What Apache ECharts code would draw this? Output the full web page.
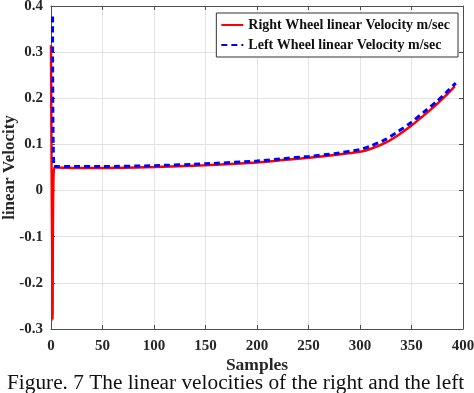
<!DOCTYPE html>
<html><head><meta charset="utf-8">
<script src="https://cdn.jsdelivr.net/npm/echarts@6/dist/echarts.min.js"></script>
<style>html,body{margin:0;padding:0;background:#fff}#c{width:474px;height:393px}</style>
</head><body><div id="c"></div>
<script>
const rightSamples = [0, 1.5, 3, 25, 50, 100, 150, 200, 225, 250, 275, 300, 310, 325, 337, 350, 362, 375, 383, 392];
const rightValues  = [0.315, -0.28, 0.050, 0.049, 0.049, 0.051, 0.055, 0.061, 0.066, 0.071, 0.077, 0.084, 0.090, 0.104, 0.120, 0.141, 0.163, 0.188, 0.205, 0.226];
const leftSamples  = [1.5, 3, 25, 50, 100, 150, 200, 225, 250, 275, 300, 310, 325, 337, 350, 362, 375, 383, 393];
const leftValues   = [0.377, 0.052, 0.052, 0.052, 0.054, 0.058, 0.064, 0.069, 0.074, 0.080, 0.089, 0.096, 0.111, 0.128, 0.148, 0.170, 0.194, 0.211, 0.233];
const xTicks = [0, 50, 100, 150, 200, 250, 300, 350, 400];
const yTicks = [-0.3, -0.2, -0.1, 0, 0.1, 0.2, 0.3, 0.4];
const seriesNames = ['Right Wheel linear Velocity m/sec', 'Left Wheel linear Velocity m/sec'];
const caption = 'Figure. 7 The linear velocities of the right and the left';

const font = 'Liberation Serif';
const axisColor = '#4d4d4d';
const zip = (a, b) => a.map((v, i) => [v, b[i]]);
const chart = echarts.init(document.getElementById('c'));
const lab = {fontFamily: font, fontWeight: 'bold', fontSize: 15, color: '#262626'};
chart.setOption({
  animation: false,
  grid: {left: 51, right: 11, top: 6, bottom: 64, containLabel: false, outerBoundsMode: 'none'},
  title: {text: caption, left: 2, top: 368, textStyle: {fontFamily: font, fontWeight: 'normal', fontSize: 21.3, color: '#111'}},
  legend: {
    orient: 'vertical', right: 16, top: 13, data: seriesNames,
    backgroundColor: '#fff', borderColor: '#333', borderWidth: 1, padding: [5, 8, 5, 4],
    itemWidth: 22, itemHeight: 10, itemGap: 6,
    itemStyle: {color: 'transparent', borderWidth: 0, opacity: 0},
    textStyle: {fontFamily: font, fontWeight: 'bold', fontSize: 14, color: '#111'}
  },
  xAxis: [{
    type: 'value', min: 0, max: 400, interval: 50,
    name: 'Samples', nameLocation: 'middle', nameGap: 27, nameMoveOverlap: false,
    nameTextStyle: {fontFamily: font, fontWeight: 'bold', fontSize: 17.5, color: '#262626'},
    axisLine: {onZero: false, lineStyle: {color: axisColor}}, axisTick: {inside: true, length: 4, lineStyle: {color: axisColor}},
    axisLabel: Object.assign({margin: 10}, lab),
    splitLine: {show: true, lineStyle: {color: '#e3e3e3'}}
  }, {
    type: 'value', position: 'top', min: 0, max: 400, interval: 50,
    axisLine: {show: true, onZero: false, lineStyle: {color: axisColor}}, axisTick: {show: true, inside: true, length: 4, lineStyle: {color: axisColor}},
    axisLabel: {show: false}, splitLine: {show: false}
  }],
  yAxis: [{
    type: 'value', min: -0.3, max: 0.4, interval: 0.1,
    name: 'linear Velocity', nameLocation: 'middle', nameGap: 33, nameMoveOverlap: false,
    nameTextStyle: {fontFamily: font, fontWeight: 'bold', fontSize: 17, color: '#262626'},
    axisLine: {show: true, onZero: false, lineStyle: {color: axisColor}}, axisTick: {show: true, inside: true, length: 4, lineStyle: {color: axisColor}},
    axisLabel: Object.assign({margin: 8, formatter: v => (Math.round(v * 10) / 10).toString()}, lab),
    splitLine: {show: true, lineStyle: {color: '#e3e3e3'}}
  }, {
    type: 'value', position: 'right', min: -0.3, max: 0.4, interval: 0.1,
    axisLine: {show: true, onZero: false, lineStyle: {color: axisColor}}, axisTick: {show: true, inside: true, length: 4, lineStyle: {color: axisColor}},
    axisLabel: {show: false}, splitLine: {show: false}
  }],
  series: [{
    name: seriesNames[0], type: 'line', data: zip(rightSamples, rightValues), smooth: 0.2, symbol: 'none',
    lineStyle: {color: '#ff0000', width: 2.5}, itemStyle: {color: '#ff0000'}, z: 3
  }, {
    name: seriesNames[1], type: 'line', data: zip(leftSamples, leftValues), smooth: 0.2, symbol: 'none',
    lineStyle: {color: '#0000ff', width: 3, type: [6, 4]}, itemStyle: {color: '#0000ff'}, z: 4
  }]
});
</script></body></html>
